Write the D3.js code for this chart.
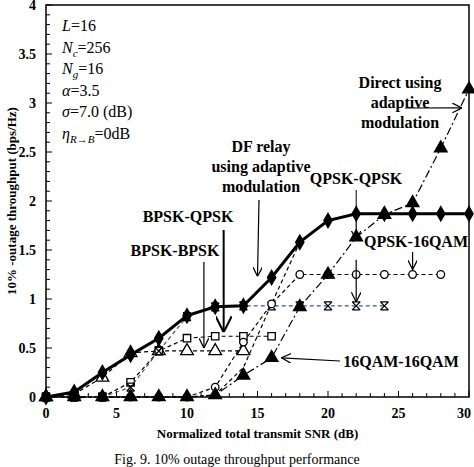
<!DOCTYPE html>
<html><head><meta charset="utf-8">
<script src="https://cdn.jsdelivr.net/npm/d3@7"></script>
<style>body{margin:0;background:#fff}text{font-family:"Liberation Serif",serif;}</style>
</head><body><div id="content"></div>
<script>
var snr = [0,2,4,6,8,10,12,14,16,18,20,22,24,26,28,30];
var dfRelay = [0,0.05,0.25,0.43,0.6,0.83,0.92,0.93,1.22,1.58,1.8,1.87,1.87,1.87,1.87,1.87];
var bpskBpsk = [0,0.03,0.2,0.45,0.47,0.47,0.47,0.47];
var bpskQpsk = [0,0,0,0.15,0.47,0.6,0.62,0.62,0.62];
var qpskQpsk = [0,0,0,0.1,0.47,0.82,0.92,0.93,0.93,0.93,0.93,0.93,0.93];
var qpskQpskRise = [0,0,0,0,0,0,0.02,0.3,0.95,1.58,1.8,1.87];
var qpsk16qam = [0,0,0,0,0,0,0.1,0.56,0.95,1.25,1.25,1.25,1.25,1.25,1.25];
var direct = [0,0,0,0,0,0,0.02,0.22,0.4,0.92,1.25,1.63,1.86,1.98,2.54,3.14];
var xTicks = [0,5,10,15,20,25,30];
var yTicks = [0,0.5,1,1.5,2,2.5,3,3.5,4];

var width = 474, height = 467;
var m = {l:46, t:5, r:5, b:70};
var svg = d3.select('#content').append('svg').attr('width', width).attr('height', height);
var x = d3.scaleLinear().domain([0,30]).range([m.l, width - m.r]);
var y = d3.scaleLinear().domain([0,4]).range([height - m.b, m.t]);

svg.append('defs').append('marker').attr('id','arr').attr('viewBox','0 0 10 10')
  .attr('refX',10).attr('refY',5).attr('markerWidth',8).attr('markerHeight',8).attr('orient','auto')
  .append('path').attr('d','M0,0 L10,5 L0,10').attr('fill','none').attr('stroke','#000').attr('stroke-width',1.3);

// frame
svg.append('rect').attr('x',m.l).attr('y',m.t).attr('width',x(30)-m.l).attr('height',y(0)-m.t)
  .attr('fill','none').attr('stroke','#000').attr('stroke-width',1.5);

// ticks
d3.range(0,4.01,0.1).forEach(function(v){
  var major = Math.abs(v*2 - Math.round(v*2)) < 1e-6;
  svg.append('line').attr('x1',m.l).attr('x2',m.l+(major?6:4)).attr('y1',y(v)).attr('y2',y(v)).attr('stroke','#000');
});
d3.range(0,30.01,1).forEach(function(v){
  var major = v % 5 === 0;
  svg.append('line').attr('x1',x(v)).attr('x2',x(v)).attr('y1',y(0)).attr('y2',y(0)-(major?6:4)).attr('stroke','#000');
});
svg.selectAll('.yt').data(yTicks).enter().append('text').attr('x',m.l-10).attr('y',function(d){return y(d)+5;})
  .attr('text-anchor','end').attr('font-size',14).attr('font-weight','bold').text(function(d){return d;});
svg.selectAll('.xt').data(xTicks).enter().append('text').attr('x',function(d){return d===30 ? x(d)+2 : x(d);}).attr('y',y(0)+21)
  .attr('text-anchor',function(d){return d===30?'end':'middle';}).attr('font-size',14).attr('font-weight','bold').text(function(d){return d;});
svg.append('text').attr('x',(m.l+width-m.r)/2).attr('y',y(0)+41).attr('text-anchor','middle')
  .attr('font-size',13).attr('font-weight','bold').text('Normalized total transmit SNR (dB)');
svg.append('text').attr('transform','translate(16,'+y(2)+') rotate(-90)').attr('text-anchor','middle')
  .attr('font-size',13).attr('font-weight','bold').text('10% -outage throughput (bps/Hz)');
svg.append('text').attr('x',width/2).attr('y',height-3).attr('text-anchor','middle').attr('font-size',14)
  .text('Fig. 9.    10% outage throughput performance');

function series(vals, opt) {
  var pts = vals.map(function(v,i){return [snr[i], v];});
  svg.append('path').datum(pts).attr('fill','none').attr('stroke',opt.color||'#000')
    .attr('stroke-width',opt.w||1.2).attr('stroke-dasharray',opt.dash||null)
    .attr('d', d3.line().x(function(d){return x(d[0]);}).y(function(d){return y(d[1]);}));
  if (!opt.sym) return;
  svg.selectAll(null).data(pts).enter().append('path')
    .attr('transform',function(d){return 'translate('+x(d[0])+','+y(d[1])+')';})
    .attr('d', opt.sym === 'x' ? 'M-4,-4L4,4M-4,4L4,-4M-4,-4L4,-4M-4,4L4,4' : d3.symbol().type(opt.sym).size(opt.size||50)())
    .attr('fill', opt.fill ? '#000' : (opt.sym==='x'?'none':'#fff')).attr('stroke','#000').attr('stroke-width',1.3);
}
series(qpskQpskRise, {dash:'4,3'});
series(bpskBpsk, {dash:'4,3', sym:d3.symbolTriangle, size:70});
series(bpskQpsk, {dash:'4,3', sym:d3.symbolSquare, size:55});
series(qpskQpsk, {dash:'4,3', color:'#3a5a8a', sym:'x'});
series(qpsk16qam, {dash:'4,3', sym:d3.symbolCircle, size:45});
series(direct, {dash:'8,3,2,3', sym:d3.symbolTriangle, size:70, fill:true});
series(dfRelay, {w:3, sym:d3.symbolDiamond, size:60, fill:true});

// parameters
var params = [['L','','=16'],['N','c','=256'],['N','g','=16'],['α','','=3.5'],['σ','','=7.0 (dB)'],['η','R→B','=0dB']];
params.forEach(function(p,i){
  var t = svg.append('text').attr('x',62).attr('y',31+i*21.5).attr('font-size',16);
  t.append('tspan').attr('font-style','italic').text(p[0]);
  if (p[1]) t.append('tspan').attr('font-style','italic').attr('font-size',11).attr('dy',4).text(p[1]);
  t.append('tspan').attr('dy',p[1]?-4:0).text(p[2]);
});

function label(lines, lx, ly) {
  lines.forEach(function(s,i){
    svg.append('text').attr('x',lx).attr('y',ly+i*20).attr('text-anchor','middle').attr('font-size',16)
      .attr('font-weight','bold').text(s);
  });
}
function arrow(x1,y1,x2,y2,w){
  svg.append('line').attr('x1',x1).attr('y1',y1).attr('x2',x2).attr('y2',y2).attr('stroke','#000')
    .attr('stroke-width',w||1.2).attr('marker-end','url(#arr)');
}
label(['DF relay','using adaptive','modulation'], 261, 152);
arrow(259, 200, x(15), y(1.23));
label(['Direct using','adaptive','modulation'], 400, 88);
arrow(405, 108, x(29.5), y(2.95));
label(['BPSK-QPSK'], 188, 222);
arrow(x(12.6), 230, x(12.6), y(0.66), 2);
label(['BPSK-BPSK'], 175, 256);
arrow(x(11.2), 262, x(11.2), y(0.5));
label(['QPSK-QPSK'], 356, 184);
svg.append('line').attr('x1',x(22)).attr('x2',x(22)).attr('y1',190).attr('y2',y(1.87)).attr('stroke','#000');
arrow(x(22), y(1.87), x(22), y(1.6));
arrow(x(22), y(1.4), x(22), y(0.97));
label(['QPSK-16QAM'], 416, 247);
arrow(x(26), 252, x(26), y(1.3));
label(['16QAM-16QAM'], 401, 367);
arrow(340, 361, x(16.7), y(0.4));
</script></body></html>
